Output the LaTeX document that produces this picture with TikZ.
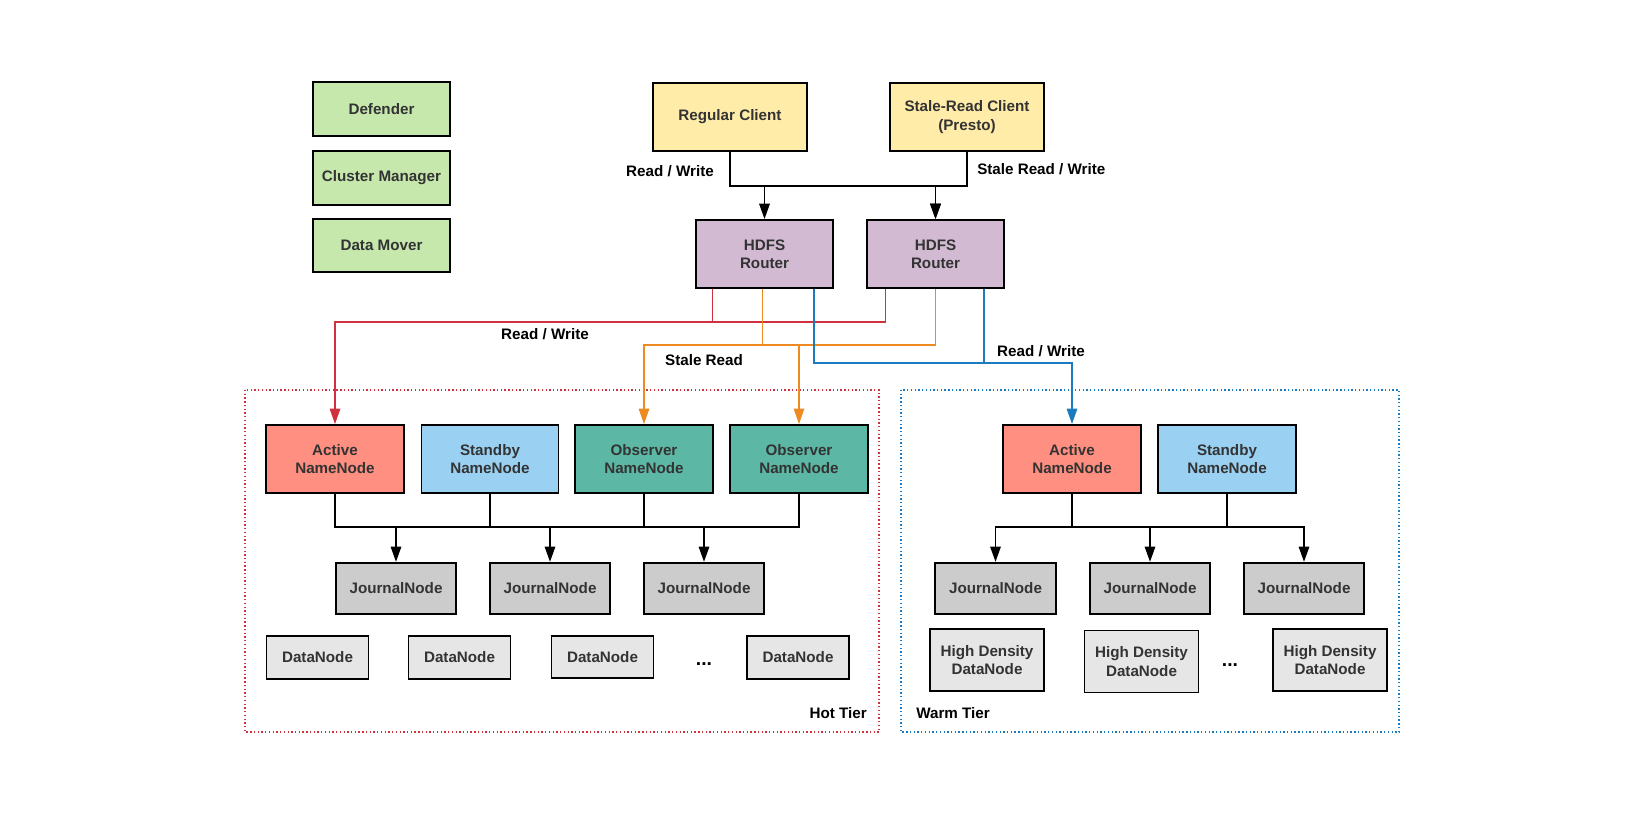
\documentclass[tikz,border=0pt]{standalone}
\usepackage{fontspec}
\setmainfont{Liberation Sans}
\usetikzlibrary{arrows.meta,calc}

\definecolor{mgrfill}{HTML}{C6E8AD}
\definecolor{clifill}{HTML}{FFECA9}
\definecolor{rtrfill}{HTML}{D2BAD2}
\definecolor{actfill}{HTML}{FF8F80}
\definecolor{sbyfill}{HTML}{9AD1F3}
\definecolor{obsfill}{HTML}{5CB8A5}
\definecolor{jnfill}{HTML}{CCCCCC}
\definecolor{dnfill}{HTML}{E6E6E6}
\definecolor{boxtext}{HTML}{333333}
\definecolor{rwred}{HTML}{D0313E}
\definecolor{srorange}{HTML}{EE8A22}
\definecolor{rwblue}{HTML}{1A7CBF}

\begin{document}
\begin{tikzpicture}[x=0.75pt,y=-0.75pt,
    box/.style={draw, line width=1.4pt, inner sep=0pt, align=center, text=boxtext,
        font=\fontsize{11.4}{13.7}\selectfont\bfseries},
    mgr/.style={box, fill=mgrfill, minimum width=102.75pt, minimum height=40pt},
    cli/.style={box, fill=clifill, minimum width=115.5pt, minimum height=51pt},
    rtr/.style={box, fill=rtrfill, minimum width=102.75pt, minimum height=51pt},
    nn/.style={box, minimum width=103pt, minimum height=51pt},
    jn/.style={box, fill=jnfill, minimum width=90.5pt, minimum height=38.5pt},
    dn/.style={box, fill=dnfill, minimum width=76.5pt, minimum height=32pt},
    hdn/.style={box, fill=dnfill, minimum width=85.5pt, minimum height=46.5pt},
    lbl/.style={inner sep=0pt, font=\fontsize{11.4}{13.7}\selectfont\bfseries},
    dots/.style={inner sep=0pt, font=\fontsize{14.5}{16}\selectfont\bfseries},
    tip/.style={-{Triangle[length=11.5pt,width=7.8pt]}},
    blk/.style={line width=1.4pt},
    rwr/.style={draw=rwred, line width=1.1pt},
    sro/.style={draw=srorange, line width=1.1pt},
    rwb/.style={draw=rwblue, line width=1.1pt},
    tier/.style={line width=0.8pt, dash pattern=on 1pt off 1.8pt}
]
\useasboundingbox (0,0) rectangle (1646,823);

% tiers
\draw[tier, draw=rwred] (245,390) rectangle (879,732);
\draw[tier, draw=rwblue] (901,390) rectangle (1399,732);
\node[lbl, anchor=east] (hottier) at (867,713) {Hot Tier};
\node[lbl, anchor=west] (warmtier) at (916,713) {Warm Tier};

% services
\node[mgr] (def) at (381.5,109) {Defender};
\node[mgr] (cm) at (381.5,178) {Cluster Manager};
\node[mgr] (dm) at (381.5,245.5) {Data Mover};

% clients and routers
\node[cli] (rc) at (730,117) {Regular Client};
\node[cli] (src) at (967,117) {Stale-Read Client\\(Presto)};
\node[rtr] (r1) at (764.5,254) {HDFS\\Router};
\node[rtr] (r2) at (935.5,254) {HDFS\\Router};

% hot tier
\node[nn, fill=actfill] (hann) at (335,459) {Active\\NameNode};
\node[nn, fill=sbyfill, line width=1.1pt] (hsnn) at (490,459) {Standby\\NameNode};
\node[nn, fill=obsfill] (hob1) at (644,459) {Observer\\NameNode};
\node[nn, fill=obsfill] (hob2) at (799,459) {Observer\\NameNode};
\node[jn] (hjn1) at (396,588.5) {JournalNode};
\node[jn] (hjn2) at (550,588.5) {JournalNode};
\node[jn] (hjn3) at (704,588.5) {JournalNode};
\node[dn] (hdn1) at (317.5,657.5) {DataNode};
\node[dn] (hdn2) at (459.5,657.5) {DataNode};
\node[dn] (hdn3) at (602.5,657) {DataNode};
\node[dn] (hdn4) at (798,657.5) {DataNode};
\node[dots] (hdots) at (704,664) {...};

% warm tier
\node[nn, fill=actfill] (wann) at (1072,459) {Active\\NameNode};
\node[nn, fill=sbyfill] (wsnn) at (1227,459) {Standby\\NameNode};
\node[jn] (wjn1) at (995.5,588.5) {JournalNode};
\node[jn] (wjn2) at (1150,588.5) {JournalNode};
\node[jn] (wjn3) at (1304,588.5) {JournalNode};
\node[hdn] (wdn1) at (987,660) {High Density\\DataNode};
\node[hdn] (wdn2) at (1141.5,661.5) {High Density\\DataNode};
\node[hdn] (wdn3) at (1330,660) {High Density\\DataNode};
\node[dots] (wdots) at (1230,665) {...};

% bus heights
\coordinate (clibus) at (0,186);
\coordinate (redbus) at (0,322);
\coordinate (orgbus) at (0,345);
\coordinate (blubus) at (0,363);
\coordinate (jnbus) at (0,527);

% clients to routers
\draw[blk, tip] (rc.south) |- (clibus -| r1) -- (r1.north);
\draw[blk, tip] (rc.south) |- (clibus -| r2) -- (r2.north);
\draw[blk, tip] (src.south) |- (clibus -| r2) -- (r2.north);
\node[lbl] (rwlbl) at (670,171) {Read / Write};
\node[lbl, anchor=west] (srwlbl) at (977,169) {Stale Read / Write};

% routers to hot tier
\draw[rwr, tip] ($(r1.south)+(-52,0)$) |- (redbus -| hann) -- (hann.north);
\draw[rwr] ($(r2.south)+(-50,0)$) |- ($(redbus -| r1)+(-52,0)$);
\node[lbl] (hrwlbl) at (545,334) {Read / Write};
\draw[sro, tip] (r2.south) |- (orgbus -| hob1) -- (hob1.north);
\draw[sro] ($(r1.south)+(-2,0)$) -- ($(orgbus -| r1)+(-2,0)$);
\draw[sro, line width=0.8pt, tip] (orgbus -| hob2) -- (hob2.north);
\node[lbl] (srlbl) at (704,360) {Stale Read};

% routers to warm tier
\draw[rwb, tip] ($(r1.south)+(49.5,0)$) |- (blubus -| wann) -- (wann.north);
\draw[rwb] ($(r2.south)+(48.5,0)$) -- ($(blubus -| r2)+(48.5,0)$);
\node[lbl] (wrwlbl) at (1041,351) {Read / Write};

% namenodes to journalnodes, hot
\draw[blk, tip] (hann.south) |- (jnbus -| hjn1) -- (hjn1.north);
\draw[blk, tip] (hann.south) |- (jnbus -| hjn2) -- (hjn2.north);
\draw[blk, tip] (hann.south) |- (jnbus -| hjn3) -- (hjn3.north);
\draw[blk] (hsnn.south) -- (jnbus -| hsnn);
\draw[blk] (hob1.south) -- (jnbus -| hob1);
\draw[blk] (hob2.south) |- (jnbus -| hjn3);

% namenodes to journalnodes, warm
\draw[blk, tip] (wann.south) |- (jnbus -| wjn1) -- (wjn1.north);
\draw[blk, tip] (wann.south) |- (jnbus -| wjn2) -- (wjn2.north);
\draw[blk, tip] (wsnn.south) |- (jnbus -| wjn3) -- (wjn3.north);
\draw[blk] (wsnn.south) |- (jnbus -| wjn2);

\end{tikzpicture}
\end{document}
